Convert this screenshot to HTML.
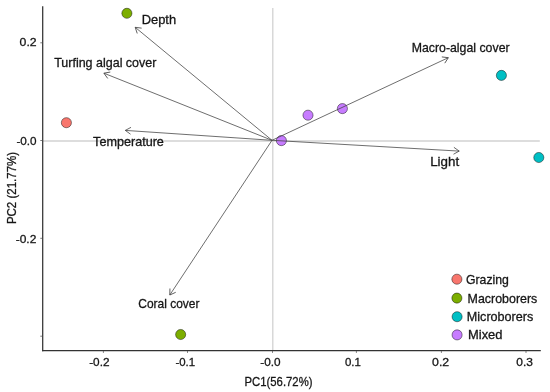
<!DOCTYPE html>
<html><head><meta charset="utf-8">
<style>
html,body{margin:0;padding:0;background:#fff;}
svg{display:block;font-family:"Liberation Sans",sans-serif;}
text{fill:#161616;font-size:11.9px;stroke:#161616;stroke-width:0.28px;}
</style></head>
<body>
<svg width="550" height="392" viewBox="0 0 550 392">
<defs>
<marker id="ah" viewBox="0 0 10 10" refX="9" refY="5" markerWidth="10" markerHeight="10" markerUnits="userSpaceOnUse" orient="auto">
<path d="M3.5,1.55 L9,5 L3.5,8.45" fill="none" stroke="#444" stroke-width="0.78"/>
</marker>
</defs>
<rect width="550" height="392" fill="#fff"/>
<line x1="43" y1="141" x2="539.8" y2="141" stroke="#d2d2d2" stroke-width="1.3"/>
<line x1="272.8" y1="8" x2="272.8" y2="350" stroke="#d2d2d2" stroke-width="1.3"/>
<line x1="42.7" y1="6.2" x2="42.7" y2="351.2" stroke="#333" stroke-width="1.25"/>
<line x1="42.1" y1="350.55" x2="540.8" y2="350.55" stroke="#333" stroke-width="1.3"/>
<g stroke="#5a5a5a" stroke-width="0.8">
<line x1="40.3" y1="42.8" x2="42.3" y2="42.8"/><line x1="40.3" y1="140.5" x2="42.3" y2="140.5"/><line x1="40.3" y1="238.3" x2="42.3" y2="238.3"/><line x1="40.3" y1="336.2" x2="42.3" y2="336.2"/>
<line x1="103.4" y1="351" x2="103.4" y2="352.9"/><line x1="187.5" y1="351" x2="187.5" y2="352.9"/><line x1="272.5" y1="351" x2="272.5" y2="352.9"/><line x1="356.4" y1="351" x2="356.4" y2="352.9"/><line x1="441.4" y1="351" x2="441.4" y2="352.9"/><line x1="526" y1="351" x2="526" y2="352.9"/>
</g>
<g stroke="#000" stroke-opacity="0.6" stroke-width="0.75">
<circle cx="66.4" cy="122.7" r="5.05" fill="#f8766d"/>
<circle cx="126.9" cy="13.3" r="5.05" fill="#7cae00"/>
<circle cx="180.65" cy="334.5" r="5.05" fill="#7cae00"/>
<circle cx="501.4" cy="75.4" r="5.05" fill="#00bfc4"/>
<circle cx="538.8" cy="157.5" r="5.05" fill="#00bfc4"/>
<circle cx="281.4" cy="140.6" r="5.05" fill="#c77cff"/>
<circle cx="308" cy="115.2" r="5.05" fill="#c77cff"/>
<circle cx="342.4" cy="108.6" r="5.05" fill="#c77cff"/>
<circle cx="456.9" cy="279.2" r="5.05" fill="#f8766d"/>
<circle cx="456.9" cy="298.1" r="5.05" fill="#7cae00"/>
<circle cx="457.1" cy="316.7" r="5.05" fill="#00bfc4"/>
<circle cx="457.1" cy="334.9" r="5.05" fill="#c77cff"/>
</g>
<g stroke="#444" stroke-width="0.78" fill="none" marker-end="url(#ah)">
<line x1="272" y1="140.3" x2="135.2" y2="27.3"/>
<line x1="272" y1="140.3" x2="103.9" y2="73.2"/>
<line x1="272" y1="140.3" x2="125.3" y2="130.4"/>
<line x1="272" y1="140.3" x2="169.8" y2="295"/>
<line x1="272" y1="140.3" x2="448.3" y2="57.7"/>
<line x1="272" y1="140.3" x2="459.2" y2="151.1"/>
</g>
<text x="141.70" y="23.50" textLength="34.40" lengthAdjust="spacingAndGlyphs">Depth</text>
<text x="54.20" y="66.60" textLength="102.20" lengthAdjust="spacingAndGlyphs">Turfing algal cover</text>
<text x="93.10" y="146.00" textLength="70.80" lengthAdjust="spacingAndGlyphs">Temperature</text>
<text x="138.30" y="308.10" textLength="61.20" lengthAdjust="spacingAndGlyphs">Coral cover</text>
<text x="411.70" y="52.10" textLength="97.90" lengthAdjust="spacingAndGlyphs">Macro-algal cover</text>
<text x="430.20" y="166.20" textLength="29.00" lengthAdjust="spacingAndGlyphs">Light</text>
<text x="466.00" y="283.80" textLength="42.90" lengthAdjust="spacingAndGlyphs">Grazing</text>
<text x="467.60" y="302.60" textLength="69.70" lengthAdjust="spacingAndGlyphs">Macroborers</text>
<text x="466.80" y="321.20" textLength="66.50" lengthAdjust="spacingAndGlyphs">Microborers</text>
<text x="468.00" y="339.00" textLength="34.50" lengthAdjust="spacingAndGlyphs">Mixed</text>
<text x="19.60" y="45.80" style="font-size:11.1px" textLength="17.00" lengthAdjust="spacingAndGlyphs">0.2</text>
<text x="16.40" y="144.60" style="font-size:11.1px" textLength="20.20" lengthAdjust="spacingAndGlyphs">-0.0</text>
<text x="15.70" y="242.80" style="font-size:11.1px" textLength="20.60" lengthAdjust="spacingAndGlyphs">-0.2</text>
<text x="89.20" y="366.20" style="font-size:11.1px" textLength="20.30" lengthAdjust="spacingAndGlyphs">-0.2</text>
<text x="175.40" y="366.20" style="font-size:11.1px" textLength="19.70" lengthAdjust="spacingAndGlyphs">-0.1</text>
<text x="260.30" y="366.00" style="font-size:11.1px" textLength="20.30" lengthAdjust="spacingAndGlyphs">-0.0</text>
<text x="344.90" y="366.00" style="font-size:11.1px" textLength="15.90" lengthAdjust="spacingAndGlyphs">0.1</text>
<text x="432.10" y="366.00" style="font-size:11.1px" textLength="17.10" lengthAdjust="spacingAndGlyphs">0.2</text>
<text x="516.30" y="366.00" style="font-size:11.1px" textLength="16.60" lengthAdjust="spacingAndGlyphs">0.3</text>
<text x="244.50" y="385.90" textLength="68.00" lengthAdjust="spacingAndGlyphs">PC1(56.72%)</text>
<text transform="translate(16.10,224.10) rotate(-90)" textLength="72.20" lengthAdjust="spacingAndGlyphs">PC2 (21.77%)</text>
</svg>
</body></html>
